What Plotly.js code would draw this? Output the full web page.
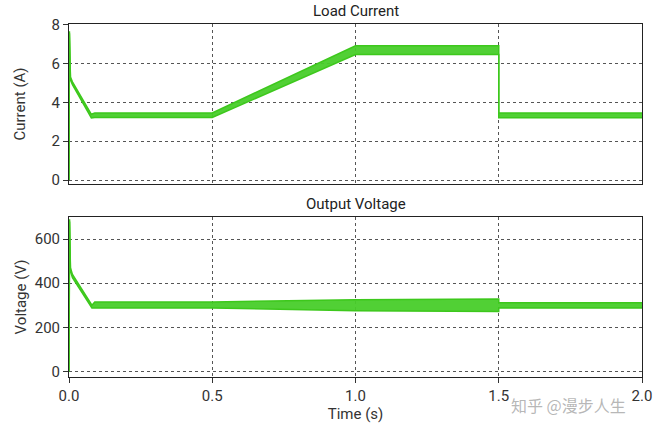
<!DOCTYPE html>
<html>
<head>
<meta charset="utf-8">
<script src="https://cdn.plot.ly/plotly-3.0.1.min.js"></script>
<style>html,body{margin:0;padding:0;background:#fff;}#chart{width:666px;height:423px;}</style>
</head>
<body>
<div id="chart"></div>
<script>
// Time points (s)
const timeCurrent = [0, 0.0015, 0.005, 0.012, 0.078, 0.09, 0.5, 1.0, 1.5, 1.5, 2.0];
// Load current envelope (A)
const currentUpper = [0, 7.65, 5.3, 5.05, 3.38, 3.45, 3.45, 6.9, 6.9, 3.45, 3.45];
const currentLower = [0, 7.55, 5.15, 4.9, 3.2, 3.22, 3.22, 6.45, 6.45, 3.2, 3.2];

const timeVoltage = [0, 0.002, 0.005, 0.012, 0.08, 0.09, 0.5, 1.0, 1.5, 1.5, 2.0];
// Output voltage envelope (V)
const voltageUpper = [0, 690, 470, 440, 300, 315, 315, 325, 328, 312, 312];
const voltageLower = [0, 680, 455, 425, 288, 288, 288, 275, 272, 288, 288];

const xTicks = [0, 0.5, 1.0, 1.5, 2.0];
const xTickLabels = ['0.0', '0.5', '1.0', '1.5', '2.0'];

const green = '#3dc81c';
const font = 'Roboto, "DejaVu Sans", sans-serif';

function band(x, lo, hi, xa, ya) {
  return [
    {x: x, y: lo, xaxis: xa, yaxis: ya, mode: 'lines', line: {color: green, width: 1.5}, hoverinfo: 'skip', showlegend: false},
    {x: x, y: hi, xaxis: xa, yaxis: ya, mode: 'lines', fill: 'tonexty', fillcolor: 'rgba(72,206,42,0.95)', line: {color: green, width: 1.5}, hoverinfo: 'skip', showlegend: false}
  ];
}

const data = [].concat(
  band(timeCurrent, currentLower, currentUpper, 'x', 'y'),
  band(timeVoltage, voltageLower, voltageUpper, 'x2', 'y2')
);

const gridCommon = {gridcolor: '#555', griddash: 'dot', gridwidth: 1, showline: true, mirror: true, linecolor: '#222', linewidth: 1, zeroline: false};

const layout = {
  width: 666, height: 423,
  margin: {l: 69, r: 24, t: 24, b: 46},
  paper_bgcolor: '#fff', plot_bgcolor: '#fff',
  font: {family: font, size: 15, color: '#333'},
  showlegend: false,
  xaxis: Object.assign({}, gridCommon, {domain: [0, 1], range: [0, 2], anchor: 'y', tickvals: xTicks, showticklabels: false, ticks: ''}),
  yaxis: Object.assign({}, gridCommon, {domain: [0.5467, 1], range: [-0.2, 8.02], tickvals: [0, 2, 4, 6, 8], ticks: 'outside', ticklen: 5, tickcolor: '#333',
    title: {text: 'Current (A)', standoff: 22, font: {size: 15}}}),
  xaxis2: Object.assign({}, gridCommon, {domain: [0, 1], range: [0, 2], anchor: 'y2', tickvals: xTicks, ticktext: xTickLabels, ticks: 'outside', ticklen: 5, tickcolor: '#333',
    title: {text: 'Time (s)', standoff: 4, font: {size: 15}}}),
  yaxis2: Object.assign({}, gridCommon, {domain: [0, 0.4533], range: [-25, 700], tickvals: [0, 200, 400, 600], ticks: 'outside', ticklen: 5, tickcolor: '#333',
    title: {text: 'Voltage (V)', standoff: 4, font: {size: 15}}}),
  annotations: [
    {text: 'Load Current', xref: 'paper', yref: 'paper', x: 0.5, y: 1, yshift: 2, xanchor: 'center', yanchor: 'bottom', showarrow: false, font: {size: 15, color: '#222'}},
    {text: 'Output Voltage', xref: 'paper', yref: 'paper', x: 0.5, y: 0.4533, yshift: 2, xanchor: 'center', yanchor: 'bottom', showarrow: false, font: {size: 15, color: '#222'}},
    {text: '知乎 @漫步人生', xref: 'paper', yref: 'paper', x: 0.975, y: 0, yshift: -28, xanchor: 'right', yanchor: 'middle', showarrow: false,
     font: {family: '"Noto Sans CJK SC", sans-serif', size: 16, color: 'rgba(170,170,170,0.85)'}}
  ]
};

Plotly.newPlot('chart', data, layout, {staticPlot: true, displayModeBar: false});
</script>
</body>
</html>
